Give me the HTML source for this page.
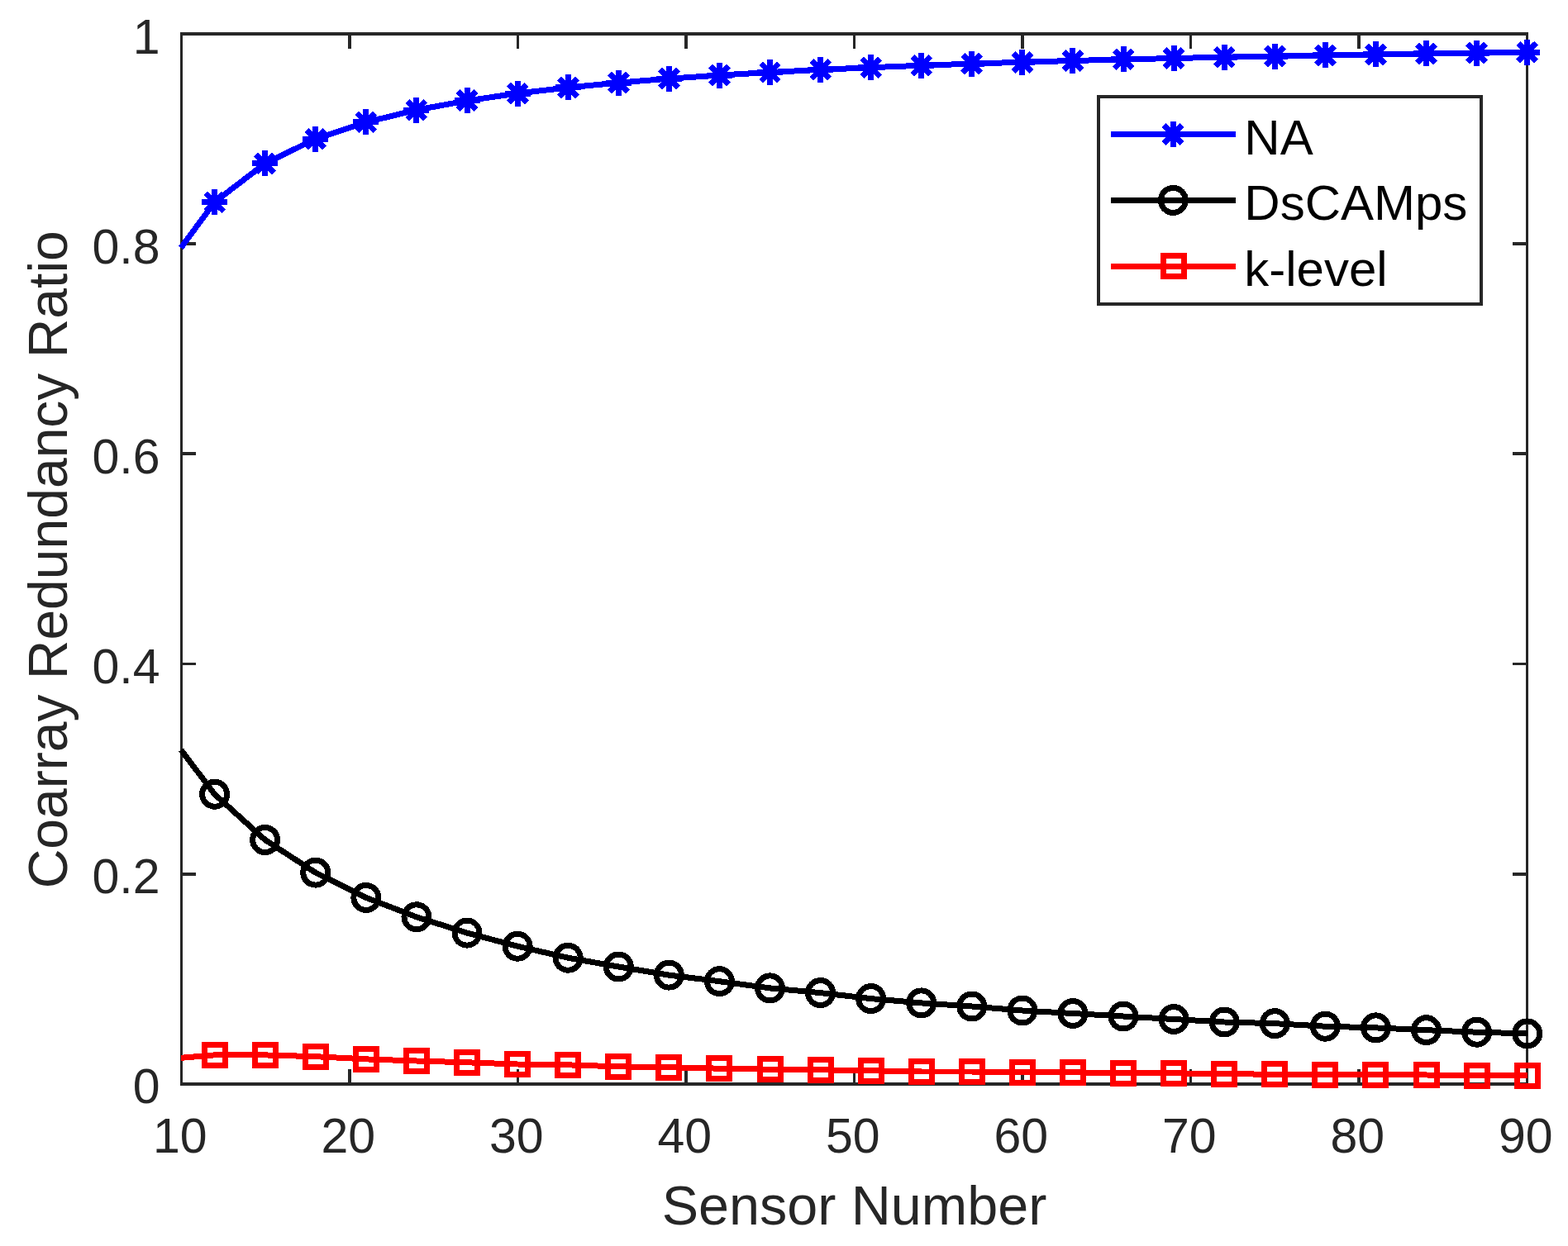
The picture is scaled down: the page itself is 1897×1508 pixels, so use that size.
<!DOCTYPE html><html><head><meta charset="utf-8"><style>html,body{margin:0;padding:0;background:#fff;}svg{display:block;}text{font-family:"Liberation Sans",Arial,Helvetica,sans-serif;}</style></head><body>
<svg width="1897" height="1508" viewBox="0 0 1897 1508" shape-rendering="crispEdges">
<rect width="1897" height="1508" fill="#fff"/>
<path d="M219.5 1311.85V1294.35M219.5 41V58.5M423 1311.85V1294.35M423 41V58.5M626.5 1311.85V1294.35M626.5 41V58.5M830 1311.85V1294.35M830 41V58.5M1033.5 1311.85V1294.35M1033.5 41V58.5M1237 1311.85V1294.35M1237 41V58.5M1440.5 1311.85V1294.35M1440.5 41V58.5M1644 1311.85V1294.35M1644 41V58.5M1847.5 1311.85V1294.35M1847.5 41V58.5M219.5 1311.85H237M1847.5 1311.85H1830M219.5 1057.68H237M1847.5 1057.68H1830M219.5 803.51H237M1847.5 803.51H1830M219.5 549.34H237M1847.5 549.34H1830M219.5 295.17H237M1847.5 295.17H1830M219.5 41H237M1847.5 41H1830" stroke="#262626" stroke-width="3.9" fill="none"/>
<path d="M219.5 39.1V1313.75 M1847.5 39.1V1313.75" stroke="#262626" stroke-width="3" fill="none"/>
<path d="M218 41H1849 M218 1311.85H1849" stroke="#262626" stroke-width="3.8" fill="none"/>
<g fill="#262626" font-size="59"><text x="217.7" y="1394.8" text-anchor="middle">10</text><text x="421.2" y="1394.8" text-anchor="middle">20</text><text x="624.7" y="1394.8" text-anchor="middle">30</text><text x="828.2" y="1394.8" text-anchor="middle">40</text><text x="1031.7" y="1394.8" text-anchor="middle">50</text><text x="1235.2" y="1394.8" text-anchor="middle">60</text><text x="1438.7" y="1394.8" text-anchor="middle">70</text><text x="1642.2" y="1394.8" text-anchor="middle">80</text><text x="1845.7" y="1394.8" text-anchor="middle">90</text><text x="193.5" y="1335.45" text-anchor="end">0</text><text x="193.5" y="1081.28" text-anchor="end">0.2</text><text x="193.5" y="827.11" text-anchor="end">0.4</text><text x="193.5" y="572.94" text-anchor="end">0.6</text><text x="193.5" y="318.77" text-anchor="end">0.8</text><text x="193.5" y="64.6" text-anchor="end">1</text></g>
<text x="1033.5" y="1481.7" text-anchor="middle" font-size="66.5" fill="#262626">Sensor Number</text>
<text transform="translate(81.2 677.3) rotate(-90)" text-anchor="middle" font-size="66" fill="#262626">Coarray Redundancy Ratio</text>
<polyline points="218.9,1280.3 259.62,1276.9 320.7,1276.9 381.78,1278.7 442.86,1281.9 503.94,1284 565.02,1285.8 626.1,1288 687.18,1288.85 748.26,1290.8 809.34,1291.6 870.42,1293.2 931.5,1294.2 992.58,1294.8 1053.66,1295.7 1114.74,1297 1175.82,1297 1236.9,1297.9 1297.98,1297.8 1359.06,1298.9 1420.14,1298.9 1481.22,1299.6 1542.3,1300.3 1603.38,1300.6 1664.46,1300.6 1725.54,1301 1786.62,1301.7 1847.7,1301.7" stroke="#ff0000" stroke-width="7.0" fill="none" stroke-linejoin="miter"/>
<path d="M247.12 1264.4h25v25h-25zM308.2 1264.4h25v25h-25zM369.28 1266.2h25v25h-25zM430.36 1269.4h25v25h-25zM491.44 1271.5h25v25h-25zM552.52 1273.3h25v25h-25zM613.6 1275.5h25v25h-25zM674.68 1276.35h25v25h-25zM735.76 1278.3h25v25h-25zM796.84 1279.1h25v25h-25zM857.92 1280.7h25v25h-25zM919 1281.7h25v25h-25zM980.08 1282.3h25v25h-25zM1041.16 1283.2h25v25h-25zM1102.24 1284.5h25v25h-25zM1163.32 1284.5h25v25h-25zM1224.4 1285.4h25v25h-25zM1285.48 1285.3h25v25h-25zM1346.56 1286.4h25v25h-25zM1407.64 1286.4h25v25h-25zM1468.72 1287.1h25v25h-25zM1529.8 1287.8h25v25h-25zM1590.88 1288.1h25v25h-25zM1651.96 1288.1h25v25h-25zM1713.04 1288.5h25v25h-25zM1774.12 1289.2h25v25h-25zM1835.2 1289.2h25v25h-25z" stroke="#ff0000" stroke-width="7.0" fill="none"/>
<polyline points="218.9,907.5 259.62,961.2 320.7,1016.5 381.78,1056.1 442.86,1086.4 503.94,1109.8 565.02,1129.1 626.1,1145.2 687.18,1159.2 748.26,1170 809.34,1180.1 870.42,1187.7 931.5,1195.9 992.58,1201.6 1053.66,1208.6 1114.74,1213.9 1175.82,1218 1236.9,1223 1297.98,1226.5 1359.06,1230 1420.14,1233.5 1481.22,1237 1542.3,1238.7 1603.38,1242.2 1664.46,1243.9 1725.54,1246.7 1786.62,1249.2 1847.7,1250.9" stroke="#000" stroke-width="7.0" fill="none" stroke-linejoin="miter"/>
<g stroke="#000" stroke-width="7.0" fill="none"><circle cx="259.62" cy="961.2" r="15"/><circle cx="320.7" cy="1016.5" r="15"/><circle cx="381.78" cy="1056.1" r="15"/><circle cx="442.86" cy="1086.4" r="15"/><circle cx="503.94" cy="1109.8" r="15"/><circle cx="565.02" cy="1129.1" r="15"/><circle cx="626.1" cy="1145.2" r="15"/><circle cx="687.18" cy="1159.2" r="15"/><circle cx="748.26" cy="1170" r="15"/><circle cx="809.34" cy="1180.1" r="15"/><circle cx="870.42" cy="1187.7" r="15"/><circle cx="931.5" cy="1195.9" r="15"/><circle cx="992.58" cy="1201.6" r="15"/><circle cx="1053.66" cy="1208.6" r="15"/><circle cx="1114.74" cy="1213.9" r="15"/><circle cx="1175.82" cy="1218" r="15"/><circle cx="1236.9" cy="1223" r="15"/><circle cx="1297.98" cy="1226.5" r="15"/><circle cx="1359.06" cy="1230" r="15"/><circle cx="1420.14" cy="1233.5" r="15"/><circle cx="1481.22" cy="1237" r="15"/><circle cx="1542.3" cy="1238.7" r="15"/><circle cx="1603.38" cy="1242.2" r="15"/><circle cx="1664.46" cy="1243.9" r="15"/><circle cx="1725.54" cy="1246.7" r="15"/><circle cx="1786.62" cy="1249.2" r="15"/><circle cx="1847.7" cy="1250.9" r="15"/></g>
<polyline points="218.9,299.9 259.62,244.66 320.7,197.77 381.78,168.19 442.86,147.88 503.94,133.1 565.02,121.87 626.1,113.05 687.18,105.95 748.26,100.1 809.34,95.21 870.42,91.06 931.5,87.49 992.58,84.39 1053.66,81.67 1114.74,79.27 1175.82,77.13 1236.9,75.22 1297.98,73.49 1359.06,71.93 1420.14,70.5 1481.22,69.2 1542.3,68.01 1603.38,66.91 1664.46,65.9 1725.54,64.96 1786.62,64.09 1847.7,63.28" stroke="#0000ff" stroke-width="7.0" fill="none" stroke-linejoin="miter"/>
<path d="M244.12 244.66H275.12 M259.62 229.16V260.16 M248.66 233.7L270.58 255.62 M248.66 255.62L270.58 233.7M305.2 197.77H336.2 M320.7 182.27V213.27 M309.74 186.81L331.66 208.73 M309.74 208.73L331.66 186.81M366.28 168.19H397.28 M381.78 152.69V183.69 M370.82 157.23L392.74 179.15 M370.82 179.15L392.74 157.23M427.36 147.88H458.36 M442.86 132.38V163.38 M431.9 136.92L453.82 158.84 M431.9 158.84L453.82 136.92M488.44 133.1H519.44 M503.94 117.6V148.6 M492.98 122.14L514.9 144.06 M492.98 144.06L514.9 122.14M549.52 121.87H580.52 M565.02 106.37V137.37 M554.06 110.91L575.98 132.83 M554.06 132.83L575.98 110.91M610.6 113.05H641.6 M626.1 97.55V128.55 M615.14 102.09L637.06 124.01 M615.14 124.01L637.06 102.09M671.68 105.95H702.68 M687.18 90.45V121.45 M676.22 94.99L698.14 116.91 M676.22 116.91L698.14 94.99M732.76 100.1H763.76 M748.26 84.6V115.6 M737.3 89.14L759.22 111.06 M737.3 111.06L759.22 89.14M793.84 95.21H824.84 M809.34 79.71V110.71 M798.38 84.25L820.3 106.17 M798.38 106.17L820.3 84.25M854.92 91.06H885.92 M870.42 75.56V106.56 M859.46 80.1L881.38 102.02 M859.46 102.02L881.38 80.1M916 87.49H947 M931.5 71.99V102.99 M920.54 76.53L942.46 98.45 M920.54 98.45L942.46 76.53M977.08 84.39H1008.08 M992.58 68.89V99.89 M981.62 73.43L1003.54 95.35 M981.62 95.35L1003.54 73.43M1038.16 81.67H1069.16 M1053.66 66.17V97.17 M1042.7 70.71L1064.62 92.63 M1042.7 92.63L1064.62 70.71M1099.24 79.27H1130.24 M1114.74 63.77V94.77 M1103.78 68.31L1125.7 90.23 M1103.78 90.23L1125.7 68.31M1160.32 77.13H1191.32 M1175.82 61.63V92.63 M1164.86 66.17L1186.78 88.09 M1164.86 88.09L1186.78 66.17M1221.4 75.22H1252.4 M1236.9 59.72V90.72 M1225.94 64.26L1247.86 86.18 M1225.94 86.18L1247.86 64.26M1282.48 73.49H1313.48 M1297.98 57.99V88.99 M1287.02 62.53L1308.94 84.45 M1287.02 84.45L1308.94 62.53M1343.56 71.93H1374.56 M1359.06 56.43V87.43 M1348.1 60.97L1370.02 82.89 M1348.1 82.89L1370.02 60.97M1404.64 70.5H1435.64 M1420.14 55V86 M1409.18 59.54L1431.1 81.46 M1409.18 81.46L1431.1 59.54M1465.72 69.2H1496.72 M1481.22 53.7V84.7 M1470.26 58.24L1492.18 80.16 M1470.26 80.16L1492.18 58.24M1526.8 68.01H1557.8 M1542.3 52.51V83.51 M1531.34 57.05L1553.26 78.97 M1531.34 78.97L1553.26 57.05M1587.88 66.91H1618.88 M1603.38 51.41V82.41 M1592.42 55.95L1614.34 77.87 M1592.42 77.87L1614.34 55.95M1648.96 65.9H1679.96 M1664.46 50.4V81.4 M1653.5 54.94L1675.42 76.86 M1653.5 76.86L1675.42 54.94M1710.04 64.96H1741.04 M1725.54 49.46V80.46 M1714.58 54L1736.5 75.92 M1714.58 75.92L1736.5 54M1771.12 64.09H1802.12 M1786.62 48.59V79.59 M1775.66 53.13L1797.58 75.05 M1775.66 75.05L1797.58 53.13M1832.2 63.28H1863.2 M1847.7 47.78V78.78 M1836.74 52.32L1858.66 74.24 M1836.74 74.24L1858.66 52.32" stroke="#0000ff" stroke-width="7.0" fill="none"/>
<rect x="1329" y="117" width="463" height="251" fill="#fff" stroke="#262626" stroke-width="4"/>
<path d="M1343.7 162.5H1495" stroke="#0000ff" stroke-width="7.0"/>
<path d="M1403.85 162.5H1434.85 M1419.35 147V178 M1408.39 151.54L1430.31 173.46 M1408.39 173.46L1430.31 151.54" stroke="#0000ff" stroke-width="7.0" fill="none"/>
<path d="M1343.7 242.4H1495" stroke="#000" stroke-width="7.0"/>
<circle cx="1419.35" cy="242.4" r="15" stroke="#000" stroke-width="7.0" fill="none"/>
<path d="M1343.7 322.5H1495" stroke="#ff0000" stroke-width="7.0"/>
<path d="M1407.5 309.4h25v25h-25z" stroke="#ff0000" stroke-width="7.0" fill="none"/>
<g font-size="60" fill="#000"><text x="1505.3" y="187">NA</text><text x="1505.3" y="266">DsCAMps</text><text x="1505.3" y="346.4">k-level</text></g>
</svg></body></html>
